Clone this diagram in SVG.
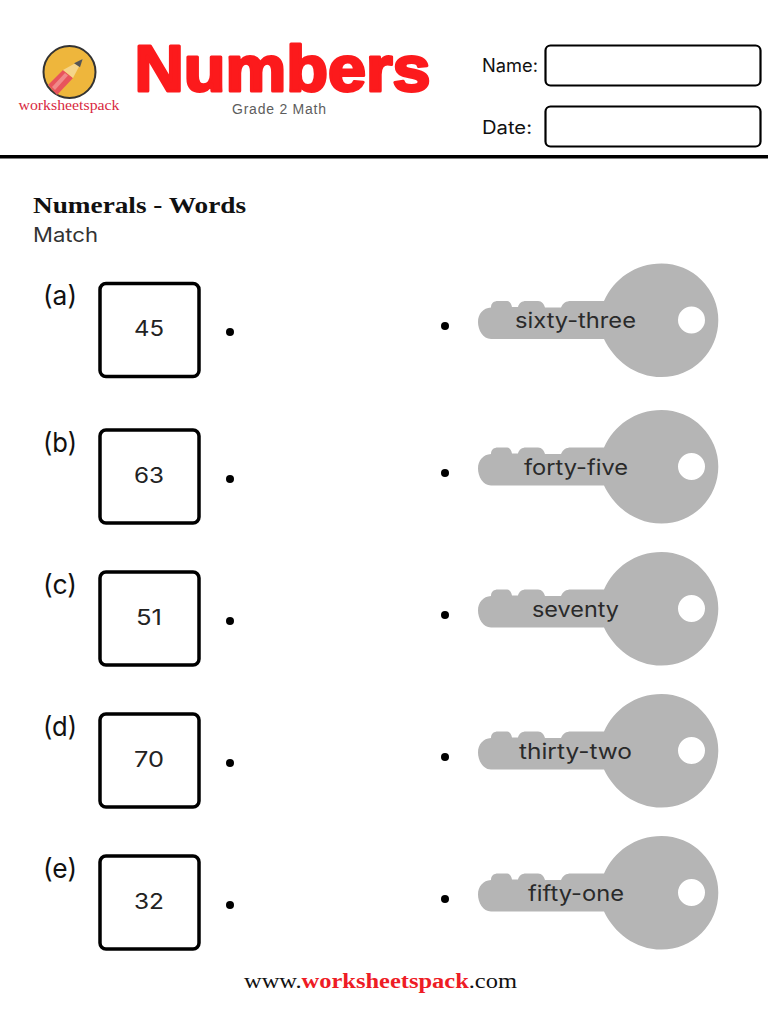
<svg xmlns="http://www.w3.org/2000/svg" width="768" height="1024" viewBox="0 0 768 1024">
<style>
.sq{fill:#fff;stroke:#000;stroke-width:3.5}
.fld{fill:#fff;stroke:#000;stroke-width:2.2}
.num{font:21px "Inter","Liberation Sans",sans-serif;fill:#222}
.word{font:21px "Inter","Liberation Sans",sans-serif;fill:#2a2a2a}
.let{font:27px "Inter","Liberation Sans",sans-serif;fill:#111}
.lab{font:18px "Inter","Liberation Sans",sans-serif;fill:#111}
.key{fill:#b5b5b5;fill-rule:evenodd}
</style>
<defs>
<path id="keyShape" class="key" d="M661.5 263.5A56.8 56.8 0 1 1 661.5 377.100C635 377.100 614 360 604 339H491C483 339 478 330 478 322C478 314 483 308 491 307.500C491 303 494 301 498 301H506C510 301 511 303 512 307H518C519 303 522 301 526 301H538C542 301 544 304 545 307.500H561C563 303 566 301 571 301H604C614 279 635 263.500 661.500 263.500ZM691.500 306.500A13.500 13.500 0 1 0 691.500 333.500A13.500 13.500 0 1 0 691.500 306.500Z"/>
</defs>
<rect width="768" height="1024" fill="#fff"/>
<g id="header">
<g id="logo">
<circle cx="69.500" cy="72" r="26" fill="#eeb63c" stroke="#333" stroke-width="2"/>
<path d="M48 85 L63 70 L73 78 L57 95 Z" fill="#e8545c"/>
<path d="M52 87 L65 73 L68 75.500 L55 90 Z" fill="#f08a8a"/>
<path d="M63 70 L83 59 L73 78 Z" fill="#f5d58a"/>
<path d="M82.700 59 L74 63.300 L80 67.300 Z" fill="#555"/>
<text x="69" y="110" font-family="'Liberation Serif',serif" font-size="15" fill="#d8293f" textLength="101" lengthAdjust="spacingAndGlyphs" text-anchor="middle">worksheetspack</text>
</g>
<text id="title" x="134.500" y="90.500" font-family="'Liberation Sans',sans-serif" font-weight="700" font-size="65" fill="#fc1a1c" stroke="#fc1a1c" stroke-width="3" stroke-linejoin="round" textLength="296" lengthAdjust="spacingAndGlyphs">Numbers</text>
<text x="232" y="114" font-family="'Liberation Sans',sans-serif" font-size="14" fill="#5d5d5d" textLength="94">Grade 2 Math</text>
<text class="lab" x="482" y="72" textLength="56" lengthAdjust="spacingAndGlyphs">Name:</text>
<rect class="fld" x="545.500" y="45.500" width="215" height="40" rx="5"/>
<text class="lab" x="482" y="134" textLength="50" lengthAdjust="spacingAndGlyphs">Date:</text>
<rect class="fld" x="545.500" y="106.500" width="215" height="40" rx="5"/>
<rect x="0" y="155" width="768" height="3.500" fill="#000"/>
</g>
<text x="33" y="213" font-family="'Liberation Serif',serif" font-weight="700" font-size="24" fill="#111" textLength="213" lengthAdjust="spacingAndGlyphs">Numerals - Words</text>
<text x="33" y="242" font-family="'Inter','Liberation Sans',sans-serif" font-size="20" fill="#333" textLength="65" lengthAdjust="spacingAndGlyphs">Match</text>
<g id="connectors"></g>
<g id="row-a">
<text class="let" x="43" y="305" textLength="34" lengthAdjust="spacingAndGlyphs">(a)</text>
<rect class="sq" x="100" y="283.500" width="99" height="93" rx="6"/>
<text class="num" x="134" y="336" textLength="30" lengthAdjust="spacingAndGlyphs">45</text>
<circle cx="230" cy="332" r="4"/>
<circle cx="445" cy="326" r="4"/>
<use href="#keyShape"/>
<text class="word" x="515" y="328" textLength="121" lengthAdjust="spacingAndGlyphs">sixty-three</text>
</g>
<g id="row-b">
<text class="let" x="43" y="452" textLength="34" lengthAdjust="spacingAndGlyphs">(b)</text>
<rect class="sq" x="100" y="430" width="99" height="93" rx="6"/>
<text class="num" x="134" y="483" textLength="30" lengthAdjust="spacingAndGlyphs">63</text>
<circle cx="230" cy="479" r="4"/>
<circle cx="445" cy="473" r="4"/>
<use href="#keyShape" y="146.500"/>
<text class="word" x="524" y="475" textLength="104" lengthAdjust="spacingAndGlyphs">forty-five</text>
</g>
<g id="row-c">
<text class="let" x="43" y="594" textLength="34" lengthAdjust="spacingAndGlyphs">(c)</text>
<rect class="sq" x="100" y="572" width="99" height="93" rx="6"/>
<text class="num" x="136" y="625" textLength="26" lengthAdjust="spacingAndGlyphs">51</text>
<circle cx="230" cy="621" r="4"/>
<circle cx="445" cy="615" r="4"/>
<use href="#keyShape" y="288.500"/>
<text class="word" x="532" y="617" textLength="87" lengthAdjust="spacingAndGlyphs">seventy</text>
</g>
<g id="row-d">
<text class="let" x="43" y="736" textLength="34" lengthAdjust="spacingAndGlyphs">(d)</text>
<rect class="sq" x="100" y="714" width="99" height="93" rx="6"/>
<text class="num" x="134" y="767" textLength="30" lengthAdjust="spacingAndGlyphs">70</text>
<circle cx="230" cy="763" r="4"/>
<circle cx="445" cy="757" r="4"/>
<use href="#keyShape" y="430.500"/>
<text class="word" x="519" y="759" textLength="113" lengthAdjust="spacingAndGlyphs">thirty-two</text>
</g>
<g id="row-e">
<text class="let" x="43" y="878" textLength="34" lengthAdjust="spacingAndGlyphs">(e)</text>
<rect class="sq" x="100" y="856" width="99" height="93" rx="6"/>
<text class="num" x="134" y="909" textLength="30" lengthAdjust="spacingAndGlyphs">32</text>
<circle cx="230" cy="905" r="4"/>
<circle cx="445" cy="899" r="4"/>
<use href="#keyShape" y="572.500"/>
<text class="word" x="528" y="901" textLength="96" lengthAdjust="spacingAndGlyphs">fifty-one</text>
</g>
<text id="footer" x="244" y="988" font-family="'Liberation Serif',serif" font-size="20" fill="#111" textLength="273" lengthAdjust="spacingAndGlyphs">www.<tspan fill="#ee1c25" font-weight="700">worksheetspack</tspan>.com</text>
</svg>
